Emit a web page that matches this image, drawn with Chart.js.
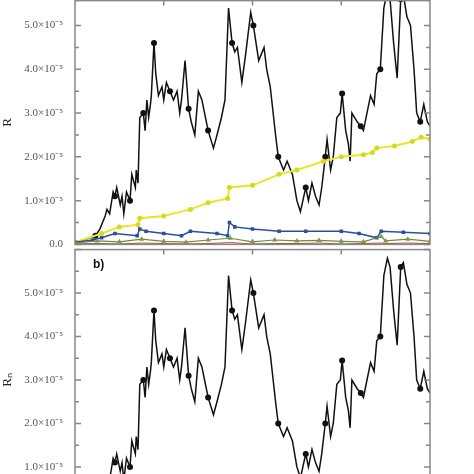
<!DOCTYPE html>
<html>
<head>
<meta charset="utf-8">
<script src="https://cdn.jsdelivr.net/npm/chart.js@4/dist/chart.umd.min.js"></script>
<style>
  html, body { margin: 0; padding: 0; width: 474px; height: 474px; overflow: hidden; background: #fff; position: relative; }
  canvas { position: absolute; left: 0; }
  #top { top: -10px; }
  #bot { top: 239px; }
</style>
</head>
<body>
<canvas id="bot" width="474" height="282"></canvas>
<canvas id="top" width="474" height="265"></canvas>
<script>
// values in units of 1e-5
const xs = [0,0.09,0.17,0.23,0.28,0.34,0.36,0.39,0.43,0.45,0.47,0.51,0.53,0.55,0.58,0.62,0.64,0.68,0.69,0.71,0.73,0.77,0.79,0.81,0.83,0.85,0.86,0.89,0.91,0.94,0.98,1.00,1.03,1.07,1.11,1.15,1.18,1.20,1.24,1.28,1.31,1.35,1.39,1.43,1.46,1.50,1.56,1.60,1.65,1.69,1.73,1.77,1.80,
  1.83,1.88,1.92,1.98,2.01,2.07,2.13,2.16,2.20,2.26,2.29,2.35,2.39,2.45,2.50,2.54,2.60,2.63,2.67,2.71,2.75,2.78,2.82,2.84,2.88,2.91,2.95,2.99,3.01,3.05,3.08,3.10,3.12,3.18,3.22,3.25,3.29,3.33,3.37,3.40,3.44,3.48,3.52,3.55,3.59,3.63,3.67,3.70,3.74,3.78,3.82,3.85,3.89,3.93,3.97,4.00];
const rVals = [0.05,0.1,0.15,0.2,0.35,0.65,0.8,0.7,1.2,1.1,1.3,0.9,1.1,0.7,1.2,1.0,1.6,1.3,1.7,1.4,2.9,3.0,2.6,3.3,2.9,3.2,3.4,4.6,3.9,3.4,3.6,3.3,3.7,3.5,3.3,3.5,3.0,3.3,4.2,3.1,2.8,2.5,3.5,3.3,3.0,2.6,2.2,2.5,2.9,3.3,5.4,4.6,4.4,
  4.5,3.7,4.3,5.3,5.0,4.2,4.5,4.0,3.6,2.5,2.0,1.7,1.9,1.6,1.0,0.75,1.3,1.0,1.4,1.1,0.9,1.3,2.0,2.4,1.7,2.0,2.9,3.0,3.45,2.6,2.3,1.9,3.0,2.8,2.7,2.6,3.0,3.4,3.2,3.9,4.0,5.4,5.8,5.6,4.6,3.8,5.6,5.7,5.2,5.0,4.0,3.0,2.8,3.2,2.8,2.7];
const yellowX = [0,0.3,0.5,0.71,0.73,1.0,1.3,1.5,1.72,1.74,2.0,2.3,2.5,2.8,3.0,3.25,3.35,3.4,3.6,3.8,3.9,4.0];
const yellowY = [0.05,0.25,0.4,0.45,0.6,0.65,0.8,0.95,1.05,1.3,1.35,1.6,1.7,1.9,2.0,2.05,2.1,2.2,2.25,2.35,2.45,2.4];
const blueX = [0,0.2,0.3,0.45,0.7,0.73,0.8,1.0,1.2,1.3,1.6,1.72,1.74,1.8,2.0,2.3,2.6,3.0,3.2,3.4,3.45,3.7,4.0];
const blueY = [0.05,0.1,0.15,0.25,0.2,0.35,0.3,0.25,0.2,0.3,0.25,0.2,0.5,0.4,0.35,0.3,0.3,0.3,0.25,0.15,0.3,0.28,0.25];
const greenX = [0,0.25,0.5,0.75,1.0,1.25,1.5,1.75,2.0,2.25,2.5,2.75,3.0,3.25,3.45,3.5,3.75,4.0];
const greenY = [0.03,0.08,0.06,0.12,0.07,0.05,0.1,0.14,0.06,0.1,0.08,0.09,0.07,0.06,0.18,0.08,0.12,0.07];
const redY = [0.01,0.02,0.01,0.03,0.02,0.01,0.02,0.04,0.01,0.02,0.02,0.03,0.01,0.02,0.03,0.02,0.03,0.02];

const pts = (xa, ya) => xa.map((x, i) => ({ x, y: ya[i] }));
const tickLbl = v => (Number.isInteger(v) && v < 6) ? (v === 0 ? '0.0' : v.toFixed(1) + '×10⁻⁵') : '';

const frame = {
  id: 'frame',
  afterDraw(chart) {
    const { ctx, chartArea: a } = chart;
    ctx.save();
    ctx.strokeStyle = '#888';
    ctx.lineWidth = 1.5;
    ctx.strokeRect(a.left, a.top, a.right - a.left, a.bottom - a.top);
    const y = chart.scales.y;
    y.ticks.forEach(t => {
      const py = y.getPixelForValue(t.value);
      const len = Number.isInteger(t.value) ? 6 : 4;
      ctx.beginPath();
      ctx.moveTo(a.right, py); ctx.lineTo(a.right - len, py);
      ctx.moveTo(a.left, py); ctx.lineTo(a.left + len, py);
      ctx.stroke();
    });
    [1, 2, 3].forEach(v => {
      const px = chart.scales.x.getPixelForValue(v);
      ctx.beginPath();
      ctx.moveTo(px, a.bottom); ctx.lineTo(px, a.bottom - 5);
      ctx.moveTo(px, a.top); ctx.lineTo(px, a.top + 5);
      ctx.stroke();
    });
    if (chart.options.plugins.panelLabel) {
      ctx.fillStyle = '#111';
      ctx.font = 'bold 12px "Liberation Sans"';
      ctx.fillText(chart.options.plugins.panelLabel, a.left + 18, a.top + 18);
    }
    ctx.restore();
  }
};

function opts(min, max, title, label) {
  return {
    responsive: false,
    animation: false,
    layout: { padding: { right: 44, top: 0, bottom: label ? 0 : 7 } },
    plugins: { legend: { display: false }, tooltip: { enabled: false }, panelLabel: label },
    scales: {
      x: { type: 'linear', min: 0, max: 4, display: false },
      y: {
        min, max,
        border: { display: false },
        grid: { display: false },
        afterFit: s => { s.width = 75; },
        ticks: { stepSize: 0.5, autoSkip: false, callback: tickLbl, color: '#555', padding: 4,
                 font: { family: 'Liberation Serif', size: 11 } },
        title: { display: true, text: title, color: '#222', padding: 0,
                 font: { family: 'Liberation Serif', size: 13 } }
      }
    }
  };
}

const blackSet = {
  data: pts(xs, rVals), borderColor: '#111', borderWidth: 1.5, tension: 0,
  pointRadius: ctx => (ctx.dataIndex % 6 === 3 ? 3 : 0), pointBackgroundColor: '#111', pointBorderWidth: 0
};

new Chart(document.getElementById('top'), {
  type: 'line',
  data: { datasets: [
    { data: pts(greenX, redY), borderColor: '#c0392b', borderWidth: 1, pointRadius: 0 },
    { data: pts(greenX, greenY), borderColor: '#6a8f3a', borderWidth: 1.2, pointStyle: 'triangle', pointRadius: 3, pointBackgroundColor: '#7a9a40', pointBorderWidth: 0 },
    { data: pts(blueX, blueY), borderColor: '#2a4f9a', borderWidth: 1.5, pointStyle: 'rect', pointRadius: 2.5, pointBackgroundColor: '#2a4f9a', pointBorderWidth: 0 },
    { data: pts(yellowX, yellowY), borderColor: '#e6e62a', borderWidth: 2, pointRadius: 2.5, pointBackgroundColor: '#d8d820', pointBorderWidth: 0 },
    blackSet
  ] },
  options: opts(0, 5.57, 'R', null),
  plugins: [frame]
});

new Chart(document.getElementById('bot'), {
  type: 'line',
  data: { datasets: [ Object.assign({}, blackSet, { data: pts(xs, rVals) }) ] },
  options: opts(0, 6.0, 'Rₙ', 'b)'),
  plugins: [frame]
});
</script>
</body>
</html>
